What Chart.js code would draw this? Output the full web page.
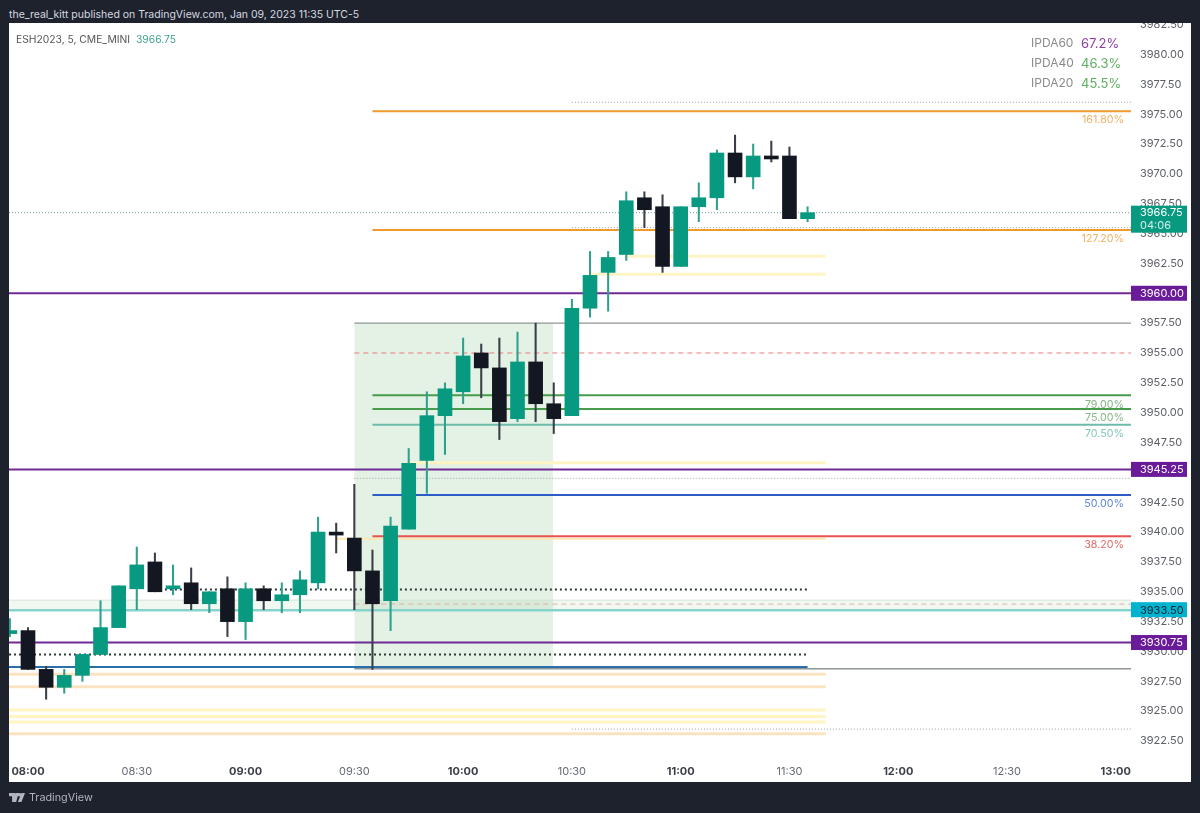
<!DOCTYPE html>
<html>
<head>
<meta charset="utf-8">
<title>ESH2023</title>
<script src="https://cdn.jsdelivr.net/npm/chart.js@4"></script>
<style>
    html, body { margin: 0; padding: 0; background: #1e222d; overflow: hidden; }
    body { width: 1200px; height: 813px; position: relative; font-family: Inter, "Noto Sans", sans-serif; }
    #chart { position: absolute; left: 0; top: 0; width: 1200px; height: 813px; }
    #header { position: absolute; left: 0; top: 0; width: 1200px; height: 23px; background: #1e222d; color: #d6d9e0; font-size: 10.5px; line-height: 30px; padding-left: 9px; box-sizing: border-box; }
    #footer { position: absolute; left: 9px; top: 790px; color: #b2b5be; font-size: 10.8px; line-height: 15px; display: flex; align-items: center; gap: 4px; }
    #symbol { position: absolute; left: 16px; top: 32px; color: #555; font-size: 10.3px; line-height: 14px; }
    #symbol span { color: #3fa28f; margin-left: 6px; }
    .ipda { position: absolute; left: 1031px; font-size: 12px; line-height: 16px; color: #8b8b8b; width: 100px; }
    .ipda span { position: absolute; left: 50px; font-size: 13px; }
</style>
</head>
<body>
<canvas id="chart" width="1200" height="813"></canvas>
<div id="header">the_real_kitt published on TradingView.com, Jan 09, 2023 11:35 UTC-5</div>
<div id="symbol">ESH2023, 5, CME_MINI<span>3966.75</span></div>
<div class="ipda" style="top:35px">IPDA60<span style="color:#8e3f9e">67.2%</span></div>
<div class="ipda" style="top:55px">IPDA40<span style="color:#5fae62">46.3%</span></div>
<div class="ipda" style="top:75px">IPDA20<span style="color:#5fae62">45.5%</span></div>
<div id="footer">
    <svg width="16" height="9" viewBox="0 0 36 20"><path fill="#b2b5be" d="M0 0h14v20H7V7H0zM15 0h7l-6 20H9zM24 0a4 4 0 1 1 0 8 4 4 0 0 1 0-8zM36 0l-8 20h-8l8-20z"/></svg>
    <span>TradingView</span>
</div>

<script>
// bar number counted in 5 minute steps, 0 = 08:00
const barIndex = [-1, 0, 1, 2, 3, 4, 5, 6, 7, 8, 9, 10, 11, 12, 13, 14, 15, 16, 17, 18, 19, 20, 21, 22, 23, 24, 25, 26, 27, 28, 29, 30, 31, 32, 33, 34, 35, 36, 37, 38, 39, 40, 41, 42, 43];
const opens = [3931.5, 3931.75, 3928.5, 3927, 3928, 3929.75, 3932, 3935.25, 3937.5, 3935.25, 3935.75, 3934, 3935.25, 3932.5, 3935.25, 3934.25, 3934.75, 3935.75, 3940, 3939.5, 3936.75, 3934.25, 3940.25, 3946, 3949.75, 3951.75, 3955, 3953.75, 3949.5, 3954.25, 3950.75, 3949.75, 3958.75, 3961.75, 3963.25, 3968, 3967.25, 3962.25, 3967.25, 3968, 3971.75, 3969.75, 3971.5, 3971.5, 3966.25];
const highs = [3932.75, 3932, 3928.75, 3928.5, 3929.75, 3934.25, 3935.5, 3938.75, 3938.25, 3937.25, 3937, 3935, 3936.25, 3935.75, 3935.5, 3935.75, 3936.75, 3941.25, 3940.75, 3944, 3938.5, 3941.25, 3947, 3951.75, 3952.5, 3956.25, 3955.75, 3956.25, 3956.75, 3957.5, 3952.5, 3959.5, 3963.5, 3963.5, 3968.5, 3968.5, 3968.25, 3967.25, 3969.25, 3972, 3973.25, 3972.5, 3972.75, 3972.25, 3967.25];
const lows = [3931.25, 3928.5, 3926, 3926.5, 3927.5, 3929.75, 3932, 3933.5, 3935, 3934.75, 3933.5, 3933.25, 3931.25, 3931, 3933.5, 3933.25, 3933.25, 3935.25, 3938.25, 3933.5, 3928.5, 3931.75, 3940.25, 3943.25, 3946.5, 3950.75, 3951.25, 3947.75, 3949.25, 3949.25, 3948.25, 3949.75, 3958, 3958.5, 3962.75, 3965.5, 3961.75, 3962.25, 3966, 3967, 3969.25, 3968.75, 3971, 3966.25, 3966];
const closes = [3931.75, 3928.5, 3927, 3928, 3929.75, 3932, 3935.5, 3937.25, 3935, 3935.5, 3934, 3935, 3932.5, 3935.25, 3934.25, 3934.75, 3936, 3940, 3939.75, 3936.75, 3934, 3940.5, 3945.75, 3949.75, 3952, 3954.75, 3953.75, 3949.25, 3954.25, 3950.75, 3949.5, 3958.75, 3961.5, 3963, 3967.75, 3967, 3962.25, 3967.25, 3968, 3971.75, 3969.75, 3971.5, 3971.25, 3966.25, 3966.75];

const timeBars = [0, 6, 12, 18, 24, 30, 36, 42, 48, 54, 60];
const timeLabels = ['08:00', '08:30', '09:00', '09:30', '10:00', '10:30', '11:00', '11:30', '12:00', '12:30', '13:00'];
const priceTicks = [3922.5, 3925, 3927.5, 3930, 3932.5, 3935, 3937.5, 3940, 3942.5, 3945, 3947.5, 3950, 3952.5, 3955, 3957.5, 3960, 3962.5, 3965, 3967.5, 3970, 3972.5, 3975, 3977.5, 3980, 3982.5];

const xMin = -1.048, xMax = 60.84;
const yMin = 3921.33, yMax = 3982.554;

// horizontal levels: price, first bar, last bar, look
const levelPrices = [3976, 3975.25, 3966.75, 3965.5, 3965.3, 3963.1, 3961.6, 3960, 3957.5, 3955, 3951.45, 3950.3, 3949, 3945.8, 3945.25, 3944.5, 3943.1, 3939.65, 3939.45, 3935.2, 3934.3, 3933.97, 3933.45, 3930.75, 3929.75, 3928.7, 3928.55, 3928.1, 3927.05, 3925.1, 3924.55, 3924.1, 3923.5, 3923.1];
const levelFrom = [30, 19, xMin, 30, 19, 33, 31, xMin, 18, 18, 19, 19, 19, 21, xMin, 18, 19, 19, 17, 7, xMin, 18, xMin, xMin, xMin, xMin, 18, xMin, xMin, xMin, xMin, xMin, 30, xMin];
const levelTo = [xMax, xMax, xMax, xMax, xMax, 44, 44, xMax, xMax, xMax, xMax, xMax, xMax, 44, xMax, xMax, xMax, xMax, 44, 43, xMax, xMax, xMax, xMax, 43, 43, xMax, 44, 44, 44, 44, 44, xMax, 44];
const levelLooks = ['greyDot', 'orange', 'tealDot', 'greyDot', 'orange', 'yellow', 'yellow', 'purple', 'grey', 'redDash', 'green', 'green', 'teal', 'yellow', 'purple', 'greyDot', 'blue', 'red', 'yellowThin', 'blackDot', 'paleGreen', 'salmonDash', 'cyan', 'purple', 'blackDot', 'navy', 'grey', 'peach', 'peach', 'yellow', 'yellow', 'yellow', 'greyDot', 'peach'];

const looks = {
    greyDot: { c: '#9aa0a6', w: 1, dash: [1, 2] },
    tealDot: { c: '#6f9f98', w: 1, dash: [1, 2] },
    orange: { c: '#f09a2e', w: 2 },
    yellow: { c: '#fff4c4', w: 3 },
    yellowThin: { c: '#fbe7b0', w: 2 },
    purple: { c: '#6f2a96', w: 2 },
    grey: { c: '#8f9598', w: 1.4 },
    redDash: { c: '#ea7b7b', w: 1, dash: [5, 4] },
    salmonDash: { c: '#dfb0a8', w: 1, dash: [5, 4] },
    paleGreen: { c: '#d3e4d5', w: 1 },
    green: { c: '#479c4b', w: 2 },
    teal: { c: '#6dbbaa', w: 2 },
    blue: { c: '#2c5cc5', w: 2 },
    red: { c: '#e8524f', w: 2 },
    blackDot: { c: '#2c3a35', w: 2, dash: [2, 3] },
    cyan: { c: '#86d3cc', w: 2.5 },
    navy: { c: '#2a6fa8', w: 2 },
    peach: { c: '#fbe3c2', w: 3 }
};

// shaded zones: top price, bottom price, first bar, last bar
const zoneTops = [3957.5, 3934.3];
const zoneBottoms = [3928.55, 3933.45];
const zoneFrom = [18, xMin];
const zoneTo = [28.96, xMax];
const zoneColors = ['rgba(76, 160, 80, 0.15)', 'rgba(120, 190, 130, 0.1)'];

const fibTexts = ['161.80%', '127.20%', '79.00%', '75.00%', '70.50%', '50.00%', '38.20%'];
const fibPrices = [3975.25, 3965.3, 3951.45, 3950.3, 3949, 3943.1, 3939.65];
const fibColors = ['#f0b163', '#f0b163', '#85b585', '#85b585', '#82c6b8', '#5f86d6', '#e06a68'];

const tagPrices = [3960, 3945.25, 3933.5, 3930.75];
const tagColors = ['#6a1b9a', '#6a1b9a', '#00b4cf', '#6a1b9a'];
const tagTextColors = ['#fff', '#fff', '#123', '#fff'];

const barColor = (i) => closes[i] >= opens[i] ? '#089981' : '#131722';
const wickColor = (i) => closes[i] >= opens[i] ? '#2ea08c' : '#3a3f47';

const datasets = [];

// bodies first so they stay on top of everything else
datasets.push({
    type: 'bar',
    data: barIndex.map((x, i) => ({ x: x, y: [opens[i], closes[i]] })),
    backgroundColor: barIndex.map((x, i) => barColor(i)),
    barThickness: 14,
    grouped: false,
    order: 0
});
datasets.push({
    type: 'bar',
    data: barIndex.map((x, i) => ({ x: x, y: [lows[i], highs[i]] })),
    backgroundColor: barIndex.map((x, i) => wickColor(i)),
    barThickness: 1.4,
    grouped: false,
    order: 1
});

levelPrices.forEach((p, i) => {
    const look = looks[levelLooks[i]];
    datasets.push({
        type: 'line',
        data: [{ x: levelFrom[i], y: p }, { x: levelTo[i], y: p }],
        borderColor: look.c,
        borderWidth: look.w,
        borderDash: look.dash || [],
        pointRadius: 0,
        order: 2 + (levelLooks[i] === 'yellow' || levelLooks[i] === 'peach' ? 1 : 0)
    });
});

zoneTops.forEach((top, i) => {
    datasets.push({
        type: 'line',
        data: [{ x: zoneFrom[i], y: top }, { x: zoneTo[i], y: top }],
        borderWidth: 0,
        pointRadius: 0,
        backgroundColor: zoneColors[i],
        fill: { value: zoneBottoms[i] },
        order: 10
    });
});

function drawTag(ctx, y, h, color) {
    ctx.fillStyle = color;
    ctx.fillRect(1131, y - h / 2, 56, h);
}

const decorations = {
    id: 'decorations',
    beforeDraw(chart) {
        const ctx = chart.ctx;
        ctx.save();
        ctx.fillStyle = '#ffffff';
        ctx.fillRect(9, 23, 1182, 759);
        ctx.restore();
    },
    afterDraw(chart) {
        const ctx = chart.ctx;
        const yScale = chart.scales.y;
        ctx.save();
        ctx.font = '10.7px Inter, "Noto Sans", sans-serif';
        ctx.textAlign = 'right';
        ctx.textBaseline = 'middle';
        fibTexts.forEach((t, i) => {
            ctx.fillStyle = fibColors[i];
            ctx.fillText(t, 1124, yScale.getPixelForValue(fibPrices[i]) + 9);
        });
        ctx.font = '11px Inter, "Noto Sans", sans-serif';
        ctx.textAlign = 'left';
        tagPrices.forEach((p, i) => {
            const y = yScale.getPixelForValue(p);
            drawTag(ctx, y, 15, tagColors[i]);
            ctx.fillStyle = tagTextColors[i];
            ctx.fillText(p.toFixed(2), 1140, y + 0.5);
        });
        const lastY = yScale.getPixelForValue(closes[closes.length - 1]);
        drawTag(ctx, lastY + 6.5, 27, '#089981');
        ctx.fillStyle = '#fff';
        ctx.fillText(closes[closes.length - 1].toFixed(2), 1140, lastY);
        ctx.fillStyle = '#d5efe9';
        ctx.fillText('04:06', 1140, lastY + 13);
        ctx.restore();
    }
};

new Chart(document.getElementById('chart'), {
    type: 'bar',
    data: { datasets: datasets },
    plugins: [decorations],
    options: {
        responsive: false,
        animation: false,
        layout: { padding: { left: 9, right: 9, top: 24, bottom: 31 } },
        plugins: { legend: { display: false }, tooltip: { enabled: false } },
        scales: {
            x: {
                type: 'linear',
                offset: false,
                min: xMin,
                max: xMax,
                grid: { display: false, drawTicks: false },
                border: { display: false },
                afterBuildTicks: (s) => { s.ticks = timeBars.map((v) => ({ value: v })); },
                afterFit: (s) => { s.height = 27; },
                ticks: {
                    autoSkip: false,
                    maxRotation: 0,
                    padding: 10,
                    color: (c) => c.index % 2 === 0 ? '#3c3f47' : '#666a72',
                    font: (c) => ({ family: 'Inter', size: 11, weight: c.index % 2 === 0 ? 'bold' : 'normal' }),
                    callback: (v, i) => timeLabels[i]
                }
            },
            y: {
                position: 'right',
                min: yMin,
                max: yMax,
                grid: { display: false, drawTicks: false },
                border: { display: false },
                afterBuildTicks: (s) => { s.ticks = priceTicks.map((v) => ({ value: v })); },
                afterFit: (s) => { s.width = 60; },
                ticks: {
                    autoSkip: false,
                    padding: 9,
                    color: '#5d6068',
                    font: { family: 'Inter', size: 11 },
                    callback: (v) => v.toFixed(2)
                }
            }
        }
    }
});
</script>
</body>
</html>
